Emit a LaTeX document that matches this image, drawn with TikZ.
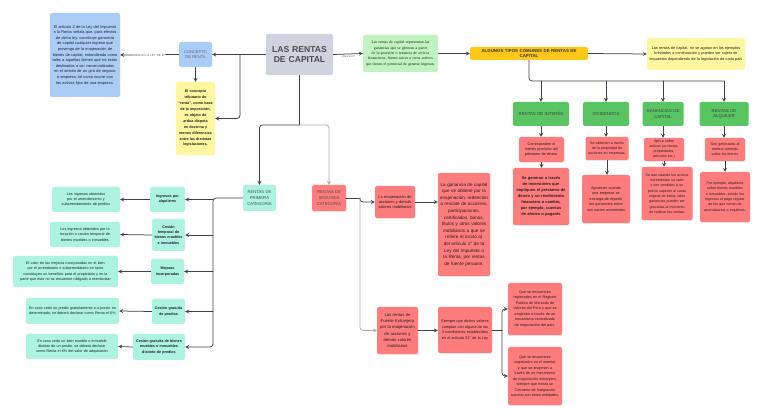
\documentclass[tikz,border=0pt]{standalone}
\usepackage{fontspec}
\setmainfont{Liberation Sans}
\newfontfamily\serifa{Liberation Serif}
\usetikzlibrary{positioning,shadows}
\definecolor{azulc}{RGB}{170,205,248}
\definecolor{amarillo}{RGB}{255,246,160}
\definecolor{grisc}{RGB}{206,211,222}
\definecolor{verdec}{RGB}{192,243,192}
\definecolor{naranja}{RGB}{255,199,24}
\definecolor{verde}{RGB}{88,196,98}
\definecolor{rojo}{RGB}{255,124,124}
\definecolor{aqua}{RGB}{172,243,226}
\definecolor{linea}{RGB}{60,66,78}
\definecolor{lineagris}{RGB}{168,170,174}
\definecolor{texto}{RGB}{30,30,34}
\newcommand{\letra}[2]{\fontsize{#1}{#2}\selectfont}
\tikzset{
caja/.style={rounded corners=2pt, inner xsep=0pt, inner ysep=1pt, align=center, text=texto, execute at begin node={\hyphenpenalty=10000 \exhyphenpenalty=10000 }},
dim/.code 2 args={\pgfmathsetmacro\anchotexto{#1-4}\pgfkeysalso{/tikz/minimum width=#1pt, /tikz/minimum height=#2pt, /tikz/text width/.expanded=\anchotexto pt}},
azul/.style={caja, fill=azulc},
nota/.style={caja, fill=amarillo},
tipo/.style={caja, fill=verde, text=black!75},
rojiza/.style={caja, fill=rojo, drop shadow={shadow xshift=0.4pt, shadow yshift=-0.9pt, opacity=0.2}},
menta/.style={caja, fill=aqua},
conector/.style={draw=linea, line width=0.75pt, rounded corners=3pt},
flecha/.style={conector, ->},
}
\begin{document}
\begin{tikzpicture}[x=1pt, y=-1pt, >=stealth, line join=round, line cap=round]
\useasboundingbox[fill=white] (0,0) rectangle (768,419);
%centro del mapa
\node[caja, fill=grisc, dim={67}{41}, text=black!70, font=\bfseries\letra{8.6}{10.4}] (rentas) at (299.5,54.5) {LAS RENTAS\\DE CAPITAL};
%concepto
\node[azul, dim={33}{25}, text=black!60, font=\letra{4}{5.6}] (concepto) at (195.5,54.5) {CONCEPTO\\DE RENTA};
\node[azul, dim={70}{84}, font=\letra{3.9}{5.6}] (ley) at (85,55) {El artículo 2 de la Ley del Impuesto a la Renta señala que, para efectos de dicha ley, constituye ganancia de capital cualquier ingreso que provenga de la enajenación de bienes de capital, entendiendo como tales a aquellos bienes que no están destinados a ser comercializados en el ámbito de un giro de negocio o empresa, tal como ocurre con los activos fijos de una empresa.};
\node[nota, dim={39}{73}, font=\bfseries\letra{3.7}{5.9}] (tributario) at (195.5,118.5) {El concepto tributario de ``renta'', como base de la imposición, es objeto de ardua disputa en doctrina y menos diferencias entre las distintas legislaciones.};
%que son
\node[caja, fill=verdec, dim={75}{37}, font=\serifa\letra{3.9}{5.4}] (quees) at (400.5,53.5) {Las rentas de capital representan las ganancias que se generan a partir de la posesión o tenencia de activos financieros, bienes raíces u otros activos que tienen el potencial de generar ingresos.};
\node[caja, fill=naranja, dim={118}{13}, font=\bfseries\letra{4.4}{4.8}, text=black!80] (tipos) at (529,53.5) {ALGUNOS TIPOS COMUNES DE RENTAS DE\\CAPITAL};
\node[nota, dim={98}{32}, font=\letra{3.8}{5.6}] (aviso) at (696,54) {Las rentas de capital, no se agotan en los ejemplos brindados a continuación y pueden ser sujeto de impuestos dependiendo de la legislación de cada país};
%tipos de rentas
\node[tipo, dim={56}{24}, font=\letra{4.3}{5.6}] (interes) at (541,114) {RENTAS DE INTERÉS};
\node[tipo, dim={46}{24}, font=\letra{4.3}{5.6}] (dividendos) at (606,114) {DIVIDENDOS};
\node[tipo, dim={41}{24}, font=\letra{4.3}{5.6}] (ganancias) at (663,114) {GANANCIAS DE\\CAPITAL};
\node[tipo, dim={49}{24}, font=\letra{4.3}{5.6}] (alquiler) at (724,114) {RENTAS DE\\ALQUILER};
\node[rojiza, dim={45}{25}, font=\letra{3.7}{5.2}] (interesA) at (541.5,149.5) {Corresponden al interés producto del préstamo de dinero.};
\node[rojiza, dim={43}{23}, font=\letra{3.6}{5}] (dividendosA) at (607,148.5) {Se obtienen a través de la propiedad de acciones en empresas.};
\node[rojiza, dim={40}{23}, font=\letra{3.6}{5}] (gananciasA) at (664,149.5) {Aplica sobre activos (acciones, propiedades, artículos etc.)};
\node[rojiza, dim={40}{23}, font=\letra{3.6}{5}] (alquilerA) at (725,149.5) {Son generadas al realizar arriendo sobre los bienes};
\node[rojiza, dim={56}{57}, font=\bfseries\letra{4}{5.9}] (interesB) at (541,196.5) {Se generan a través de inversiones que impliquen el préstamo de dinero y un rendimiento financiero a cambio, por ejemplo, cuentas de ahorro o pagarés};
\node[rojiza, dim={48}{48}, font=\letra{3.8}{5.4}] (dividendosB) at (606,199) {Aparecen cuando una empresa se encarga de repartir las ganancias entre sus socios accionistas};
\node[rojiza, dim={51}{53}, font=\letra{3.6}{5.3}] (gananciasB) at (667,193.5) {Se dan cuando los activos incrementan su valor y son vendidos a un precio superior al costo original de éstos, tales ganancias pueden ser gravadas al momento de realizar las ventas.};
\node[rojiza, dim={50}{50}, font=\letra{3.6}{5.3}] (alquilerB) at (725,197) {Por ejemplo, alquileres sobre bienes muebles o inmuebles, siendo los ingresos el pago regular de los que toman de arrendatarios o inquilinos.};
%primera categoria
\node[menta, dim={33}{26}, text=black!70, font=\letra{4.2}{5.6}] (primera) at (259.5,198) {RENTAS DE PRIMERA CATEGORÍA};
\node[menta, dim={35}{25}, font=\bfseries\letra{3.7}{5.2}] (alqM) at (167.5,199.5) {Ingresos por alquileres};
\node[menta, dim={33}{32}, font=\bfseries\letra{3.7}{5.2}] (cesionM) at (168.5,235) {Cesión temporal de bienes muebles e inmuebles};
\node[menta, dim={33}{25}, font=\bfseries\letra{3.7}{5.2}] (mejorasM) at (167.5,271.5) {Mejoras incorporadas};
\node[menta, dim={33}{25}, font=\bfseries\letra{3.7}{5.2}] (predioM) at (168.5,311.5) {Cesión gratuita de predios};
\node[menta, dim={52}{26}, font=\bfseries\letra{3.7}{5.2}] (bienesM) at (159,347) {Cesión gratuita de bienes muebles o inmuebles distinto de predios};
\node[menta, dim={68}{25}, font=\letra{3.7}{5.2}] (alqL) at (86,199.5) {Los ingresos obtenidos por el arrendamiento y subarrendamiento de predios};
\node[menta, dim={70}{25}, font=\letra{3.7}{5.2}] (cesionL) at (85,234.5) {Los ingresos obtenidos por la locación o cesión temporal de bienes muebles o inmuebles};
\node[menta, dim={105}{31}, font=\letra{3.7}{5.2}] (mejorasL) at (65.5,271.5) {El valor de las mejoras incorporadas en el bien por el arrendatario o subarrendatario en tanto constituyen un beneficio para el propietario y en la parte que éste no se encuentre obligado a reembolsar};
\node[menta, dim={93}{26}, font=\letra{3.7}{5.2}] (predioL) at (72.5,311) {En caso cedo un predio gratuitamente o a precio no determinado, se deberá declarar como Renta el 6\%};
\node[menta, dim={92}{25}, font=\letra{3.7}{5.2}] (bienesL) at (72,346.5) {En caso cedo un bien mueble o inmueble distinto de un predio, se deberá declarar como Renta el 6\% del valor de adquisición};
%segunda categoria
\node[rojiza, dim={34}{26}, text=black!70, font=\letra{4.2}{5.6}] (segunda) at (329,198) {RENTAS DE SEGUNDA CATEGORÍA};
\node[rojiza, dim={40}{32}, font=\letra{4}{5.4}] (enajena) at (395,202) {La enajenación de acciones y demás valores mobiliarios};
\node[rojiza, dim={52}{103}, font=\letra{4.6}{6.6}] (ganancia) at (464,224.5) {La ganancia de capital que se obtiene por la enajenación, redención o rescate de acciones, participaciones, certificados, bonos, títulos y otros valores mobiliarios a que se refiere el inciso a) del artículo 2° de la Ley del Impuesto a la Renta, por rentas de fuente peruana.};
\node[rojiza, dim={41}{47}, font=\letra{4.2}{6.2}] (extranjera) at (397.5,330.5) {Las rentas de Fuente Extranjera por la enajenación de acciones y demás valores mobiliarios};
\node[rojiza, dim={54}{46}, font=\letra{3.8}{5.8}] (siempre) at (465,330) {Siempre que dichos valores cumplan con alguna de las 2 condiciones establecidas en el artículo 51° de la Ley};
\node[rojiza, dim={54}{52}, font=\letra{3.7}{5.5}] (registrados) at (535,309) {Que se encuentren registrados en el Registro Público de Mercado de Valores del Perú y que se enajenen a través de un mecanismo centralizado de negociación del país.};
\node[rojiza, dim={54}{58}, font=\letra{3.7}{5.5}] (exterior) at (535,376) {Que se encuentren registrados en el exterior y que se enajenen a través de un mecanismo de negociación extranjero, siempre que exista un Convenio de Integración suscrito con estas entidades.};
%conectores
\coordinate (izq) at (240,54.5);
\coordinate (ramal) at (529,81);
\coordinate (baja) at (299.5,125);
\coordinate (tronco) at (213,198);
\coordinate (seg) at (360,198);
\coordinate (bif) at (502,330);
\draw[flecha] (rentas.west) -- (concepto.east);
\draw[flecha] (izq) |- (tributario.east);
\draw[flecha] (concepto.west) -- node[fill=white, inner sep=0.5pt, text=black!60, font=\letra{3}{3.4}] {SEGÚN LA LEY DE IR} (ley.east);
\draw[flecha] (concepto.south) -- (tributario.north);
\draw[flecha] (rentas.east) -- node[below=0.5pt, inner sep=0.5pt, text=black!60, font=\letra{2.8}{3.2}] {¿Qué son?} (quees.west);
\draw[flecha] (quees.east) -- (tipos.west);
\draw[flecha] (tipos.east) -- (aviso.west);
\draw[conector] (tipos.south) -- (ramal) -- (ramal -| alquiler.north);
\foreach \n in {interes,dividendos,ganancias,alquiler}
\draw[flecha] (ramal -| \n.north) -- (\n.north);
\foreach \n in {interes,dividendos,ganancias,alquiler}
\draw[flecha] (\n A.south) -- (\n A.south |- \n B.north);
\foreach \n in {interes,dividendos,ganancias,alquiler}
\draw[flecha] (\n.south) -- (\n.south |- \n A.north);
\draw[conector] (rentas.south) -- (baja);
\draw[flecha] (baja) -| (primera.north);
\draw[flecha, draw=lineagris] (baja) -| (segunda.north);
\draw[flecha] (primera.west) -- (tronco) |- (bienesM.east);
\foreach \n in {alq,cesion,mejoras,predio}
\draw[flecha] (tronco |- \n M.east) -- (\n M.east);
\foreach \n in {alq,cesion,mejoras,predio,bienes}
\draw[flecha] (\n M.west) -- (\n L.east);
\draw[conector] (segunda.east) -- (seg);
\draw[flecha] (seg) |- (enajena.west);
\draw[flecha, draw=lineagris] (seg) |- (extranjera.west);
\draw[flecha] (enajena.east) -- (ganancia.west |- enajena.east);
\draw[flecha] (extranjera.east) -- (siempre.west |- extranjera.east);
\draw[conector] (siempre.east) -- (bif);
\draw[flecha] (bif) |- (registrados.west);
\draw[flecha] (bif) |- (exterior.west);
\end{tikzpicture}
\end{document}
